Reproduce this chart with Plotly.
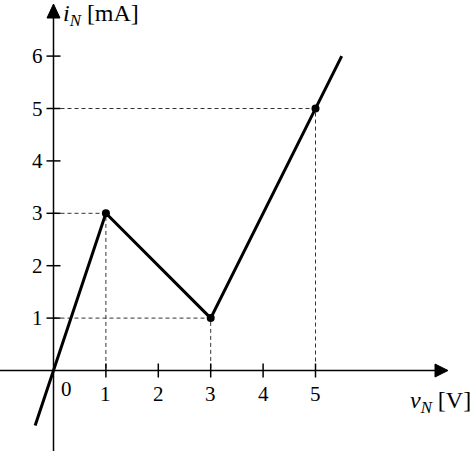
import plotly.graph_objects as go

# piecewise-linear i-v characteristic
v_curve = [-0.35, 1, 3, 5, 5.5]
i_curve = [-1.05, 3, 1, 5, 6]

# knee points with dashed guides
v_knee = [1, 3, 5]
i_knee = [3, 1, 5]

x_ticks = [1, 2, 3, 4, 5]
y_ticks = [1, 2, 3, 4, 5, 6]

W, H = 474, 451
X0, Y0, S = 53.5, 370.5, 52.4  # origin pixel position and pixels per unit
xr = [-X0 / S, (W - X0) / S]
yr = [-(H - Y0) / S, Y0 / S]

FONT = "Liberation Serif, Times New Roman, serif"

fig = go.Figure()

# dashed guide lines
for v, i in zip(v_knee, i_knee):
    fig.add_trace(go.Scatter(
        x=[0, v, v], y=[i, i, 0], mode="lines",
        line=dict(color="#333333", width=1, dash="4px,3px"),
        hoverinfo="skip", showlegend=False
    ))

# characteristic
fig.add_trace(go.Scatter(
    x=v_curve, y=i_curve, mode="lines",
    line=dict(color="black", width=3),
    showlegend=False
))
fig.add_trace(go.Scatter(
    x=v_knee, y=i_knee, mode="markers",
    marker=dict(color="black", size=8),
    showlegend=False
))

shapes = []
# axes
shapes.append(dict(type="line", xref="x", yref="y", x0=xr[0], x1=(437 - X0) / S,
                   y0=0, y1=0, line=dict(color="black", width=1.5)))
shapes.append(dict(type="line", xref="x", yref="y", x0=0, x1=0,
                   y0=yr[0], y1=(Y0 - 18) / S, line=dict(color="black", width=1.5)))
# arrowheads
shapes.append(dict(type="path", xref="x", yref="y", xsizemode="pixel", ysizemode="pixel",
                   xanchor=0, yanchor=0,
                   path=f"M {448 - X0},0 L {435 - X0},6.5 L {435 - X0},-6.5 Z",
                   fillcolor="black", line=dict(color="black", width=1)))
shapes.append(dict(type="path", xref="x", yref="y", xsizemode="pixel", ysizemode="pixel",
                   xanchor=0, yanchor=0,
                   path=f"M 0,{Y0 - 4} L -6.5,{Y0 - 18} L 6.5,{Y0 - 18} Z",
                   fillcolor="black", line=dict(color="black", width=1)))
# tick marks
for t in x_ticks:
    shapes.append(dict(type="line", xref="x", yref="y", ysizemode="pixel", yanchor=0,
                       x0=t, x1=t, y0=-7, y1=7, line=dict(color="black", width=1.5)))
for t in y_ticks:
    shapes.append(dict(type="line", xref="x", yref="y", xsizemode="pixel", xanchor=0,
                       x0=-7, x1=7, y0=t, y1=t, line=dict(color="black", width=1.5)))

annotations = []
for t in x_ticks:
    annotations.append(dict(x=t, y=0, text=str(t), showarrow=False, yshift=-23,
                            font=dict(size=21, family=FONT, color="black")))
for t in y_ticks:
    annotations.append(dict(x=0, y=t, text=str(t), showarrow=False, xshift=-16,
                            font=dict(size=21, family=FONT, color="black")))
annotations.append(dict(x=0, y=0, text="0", showarrow=False, xshift=13, yshift=-18,
                        font=dict(size=21, family=FONT, color="black")))
annotations.append(dict(x=0, y=yr[1], text="<i>i<sub>N</sub></i> [mA]", showarrow=False,
                        xanchor="left", yanchor="middle", xshift=7, yshift=-15,
                        font=dict(size=24, family=FONT, color="black")))
annotations.append(dict(x=xr[1], y=0, text="<i>v<sub>N</sub></i> [V]", showarrow=False,
                        xanchor="right", yanchor="middle", xshift=-1, yshift=-31,
                        font=dict(size=24, family=FONT, color="black")))

fig.update_layout(
    width=W, height=H,
    margin=dict(l=0, r=0, t=0, b=0),
    plot_bgcolor="white", paper_bgcolor="white",
    xaxis=dict(range=xr, visible=False, fixedrange=True),
    yaxis=dict(range=yr, visible=False, fixedrange=True),
    shapes=shapes, annotations=annotations,
    showlegend=False
)

# drop the default page margin so the figure sits at the top-left corner
fig.write_html("out.html", config=dict(displayModeBar=False),
               post_script="document.body.style.margin='0';")
